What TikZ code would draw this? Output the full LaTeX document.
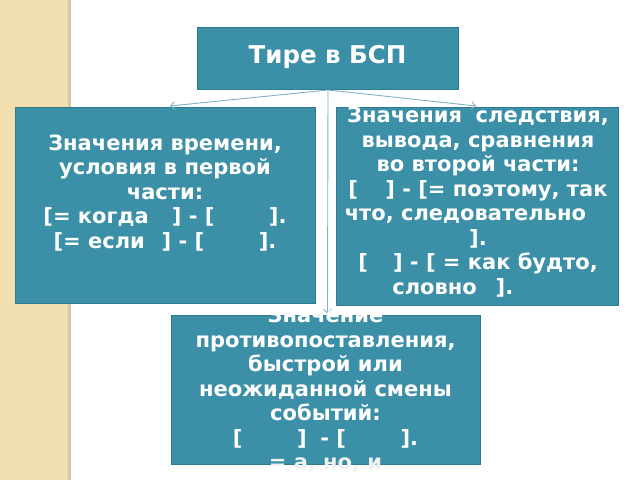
\documentclass[tikz,border=0pt]{standalone}
\usepackage{fontspec}
\setmainfont{DejaVu Sans}
\usetikzlibrary{arrows.meta}
\definecolor{boxfill}{HTML}{3B8FA6}
\definecolor{boxline}{HTML}{2E7A8F}
\definecolor{connline}{HTML}{7DB3C5}
\definecolor{stripfill}{HTML}{F2DFB0}
\definecolor{stripline}{HTML}{D6C7A9}
\tikzset{
  tealbox/.style={draw=boxline, line width=1pt, fill=boxfill, inner sep=0pt, anchor=north west},
  boxtext/.style={text=white, font=\bfseries\fontsize{21}{24.5}\selectfont, align=center, inner sep=0pt},
  conn/.style={draw=connline, line width=0.9pt, -{Straight Barb[length=4pt,width=8pt]}},
}
\begin{document}
\begin{tikzpicture}[x=1pt,y=-1pt]
\useasboundingbox (0,0) rectangle (640,480);
\fill[white] (0,0) rectangle (640,480);
% left decorative strip
\fill[stripfill] (0,0) rectangle (68,480);
\fill[stripline] (68,0) rectangle (71,480);
% boxes
\node[tealbox, minimum width=261pt, minimum height=62pt] (top) at (197,27) {};
\node[tealbox, minimum width=300pt, minimum height=196pt] (lbox) at (15,107) {};
\node[tealbox, minimum width=282pt, minimum height=198pt] (rbox) at (336,107) {};
\node[tealbox, minimum width=309pt, minimum height=149pt] (bbox) at (171,315) {};
% connector end points
\coordinate (lt) at (170,106);
\coordinate (rt) at (476,106);
\coordinate (bt) at (327.5,314);
\draw[conn] (top.south) -- (lt);
\draw[conn] (top.south) -- (rt);
\draw[conn] (top.south) -- (bt);
% texts
\node[boxtext, font=\bfseries\fontsize{24.5}{28}\selectfont] (toptext) at (327.5,57) {Тире в БСП};
\node[boxtext] (ltext) at (165,193) {Значения времени,\\условия в первой\\части:\\{[}= когда\hspace{1.1em}] - [\hspace{2.6em}].\\{[}= если\hspace{0.8em}] - [\hspace{2.6em}].};
\node[boxtext] (rtext) at (478,202) {Значения\hspace{0.3em} следствия,\\вывода, сравнения\\во второй части:\\{[}\hspace{1.3em}] - [= поэтому, так\\что, следовательно\rule{1.2em}{0pt}\\].\\{[}\hspace{1.2em}] - [ = как будто,\\словно\hspace{0.9em}].\rule{2.4em}{0pt}};
\node[boxtext] (btext) at (325.5,390) {Значение\\противопоставления,\\быстрой или\\неожиданной смены\\событий:\\{[}\hspace{2.6em}]\hspace{0.3em} - [\hspace{2.6em}].\\\textcolor{white!94!black}{= а, но, и}};
\end{tikzpicture}
\end{document}
